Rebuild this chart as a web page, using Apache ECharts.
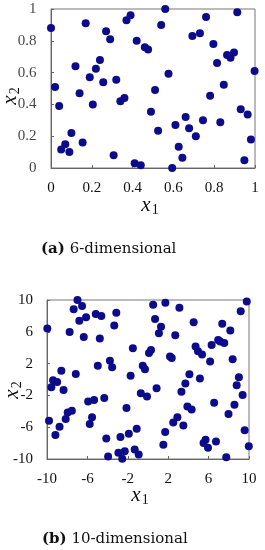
<!DOCTYPE html>
<html>
<head>
<meta charset="utf-8">
<script src="https://cdn.jsdelivr.net/npm/echarts@6/dist/echarts.min.js"></script>
<style>
html,body{margin:0;padding:0;background:#fff;}
#c{width:265px;height:550px;}
</style>
</head>
<body>
<div id="c"></div>
<script>
// (a) 6-dimensional sample
const xA = [0.00,0.02,0.04,0.05,0.07,0.09,0.10,0.12,0.14,0.155,0.17,0.19,0.205,0.22,0.24,0.256,0.27,0.29,0.307,0.32,0.34,0.36,0.37,0.39,0.41,0.42,0.44,0.46,0.476,0.49,0.51,0.525,0.54,0.56,0.576,0.594,0.61,0.626,0.644,0.66,0.677,0.693,0.71,0.73,0.745,0.76,0.78,0.796,0.814,0.83,0.847,0.863,0.88,0.897,0.913,0.93,0.948,0.964,0.98,0.998];
const yA = [0.88,0.51,0.39,0.117,0.15,0.10,0.22,0.64,0.47,0.16,0.91,0.57,0.40,0.625,0.68,0.54,0.86,0.81,0.08,0.555,0.42,0.44,0.93,0.96,0.03,0.80,0.017,0.76,0.746,0.354,0.49,0.235,0.90,1.0,0.593,0.0,0.27,0.134,0.065,0.32,0.25,0.83,0.20,0.847,0.30,0.95,0.455,0.78,0.66,0.287,0.524,0.71,0.694,0.727,0.98,0.37,0.048,0.337,0.18,0.61];

// (b) 10-dimensional sample
const xB = [-9.97,-9.8,-9.57,-9.4,-9.17,-9.0,-8.76,-8.58,-8.36,-8.15,-7.95,-7.76,-7.54,-7.36,-7.15,-6.98,-6.8,-6.53,-6.36,-6.13,-5.93,-5.77,-5.54,-5.34,-5.17,-4.97,-4.77,-4.62,-4.33,-4.13,-3.95,-3.77,-3.55,-3.34,-3.14,-2.93,-2.73,-2.55,-2.3,-2.13,-1.9,-1.72,-1.5,-1.32,-1.12,-0.92,-0.71,-0.52,-0.3,-0.1,0.1,0.3,0.51,0.7,0.85,1.08,1.29,1.52,1.72,1.7,2.18,2.35,2.5,2.7,2.91,3.11,3.31,3.5,3.7,3.9,4.1,4.32,4.52,4.71,4.95,5.14,5.35,5.5,5.7,5.94,6.15,6.3,6.55,6.73,6.95,7.15,7.35,7.55,7.75,7.97,8.15,8.38,8.56,8.78,9.0,9.18,9.37,9.57,9.78,9.98];
const yB = [6.40,-5.19,-0.96,-0.1,-6.99,-0.3,-5.94,1.1,-1.33,-4.98,-4.15,5.98,-3.93,8.83,0.7,10.0,7.4,9.25,5.36,7.82,-2.76,-5.61,-4.75,-2.57,8.24,1.72,5.15,7.99,-2.32,-7.41,-9.67,2.36,1.53,6.8,8.4,-9.2,-7.22,-9.98,-9.04,-3.58,-6.82,0.46,3.93,-8.81,-6.2,-9.42,-1.72,1.72,1.3,-2.14,3.32,3.72,9.41,7.6,-1.1,5.81,6.62,-8.2,9.64,-6.61,2.9,2.7,-5.4,5.58,-4.75,9.02,-1.53,-5.78,-0.5,-3.39,0.65,-3.77,7.2,4.16,3.55,0.12,3.15,-8.0,-7.58,-8.6,2.25,4.33,-2.93,-7.8,4.98,4.77,7.0,4.6,-9.78,-4.35,6.15,2.55,-3.18,-0.73,0.27,8.6,-1.95,-6.38,9.8,-8.41];

const ticksA = {min:0, max:1, interval:0.2};
const ticksB = {min:-10, max:10, interval:4};
const yTickLabelsA = ['0','0.2','0.4','0.6','0.8','1'];
const yTickValuesA = [0,0.2,0.4,0.6,0.8,1];
const captionA = ['(a)', ' 6-dimensional'];
const captionB = ['(b)', ' 10-dimensional'];
const xName = ['x', '1'];
const yName = ['x', '2'];

const dotColor = '#0b0b8c';
const serif = '"Liberation Serif", "Times New Roman", serif';
const capFont = '"DejaVu Serif", serif';

function pairs(xs, ys){ return xs.map((x,i)=>[x, ys[i]]); }

const nameRich = {
  i:{fontFamily:serif, fontStyle:'italic', fontSize:21, fill:'#111'},
  s:{fontFamily:serif, fontSize:14, fill:'#111', padding:[10,0,0,1]}
};

function fmt(v){ return String(Math.round(v*10)/10); }

function axis(idx, t, isX, showLabel){
  return {
    type:'value', gridIndex:idx, min:t.min, max:t.max, interval:t.interval,
    position: isX ? 'bottom' : 'left',
    axisLine:{show:true, onZero:false, lineStyle:{color:'#666', width:1}},
    axisTick:{show:true, inside:true, length:3, lineStyle:{color:'#666'}},
    axisLabel:{show:showLabel, formatter: fmt, fontFamily:serif, fontSize:15, color:'#111', margin: isX ? 13 : 14},
    splitLine:{show:false}
  };
}

function nameText(cx, cy, parts, rot){
  return {
    type:'text', x:cx, y:cy, rotation: rot, silent:true,
    style:{text:'{i|'+parts[0]+'}{s|'+parts[1]+'}', rich:nameRich, align:'center', verticalAlign:'middle'}
  };
}

const capRich = {
  b:{fontFamily:capFont, fontWeight:'bold', fontSize:15, color:'#111'},
  n:{fontFamily:capFont, fontWeight:'normal', fontSize:15, color:'#111'}
};

const chart = echarts.init(document.getElementById('c'), null, {renderer:'canvas'});
chart.setOption({
  animation:false,
  backgroundColor:'#fff',
  grid:[
    {left:47, top:300, width:202, height:159, show:true, borderColor:'#777', borderWidth:1, backgroundColor:'transparent', outerBoundsMode:'none'},
    {left:51, top:9, width:204, height:159, show:true, borderColor:'#777', borderWidth:1, backgroundColor:'transparent', outerBoundsMode:'none'}
  ],
  xAxis:[ axis(0, ticksB, true, true), axis(1, ticksA, true, true) ],
  yAxis:[ axis(0, ticksB, false, true), axis(1, ticksA, false, false) ],
  graphic:[
    nameText(150, 205, xName, 0),
    nameText(10, 96, yName, Math.PI/2),
    nameText(140, 495, xName, 0),
    nameText(12, 390, yName, Math.PI/2)
  ],
  title:[
    {text:'{b|'+captionA[0]+'}{n|'+captionA[1]+'}', left:36, top:237, textStyle:{fontWeight:'normal', rich:capRich}},
    {text:'{b|'+captionB[0]+'}{n|'+captionB[1]+'}', left:37, top:527, textStyle:{fontWeight:'normal', rich:capRich}}
  ],
  series:[
    {type:'scatter', xAxisIndex:0, yAxisIndex:0, data:pairs(xB,yB), symbolSize:8, itemStyle:{color:dotColor, opacity:1}, clip:false},
    {type:'scatter', xAxisIndex:1, yAxisIndex:1, data:pairs(xA,yA), symbolSize:8, itemStyle:{color:dotColor, opacity:1}, clip:false},
    // y tick labels of panel (a), placed on the library's own y scale
    {type:'scatter', xAxisIndex:1, yAxisIndex:1, silent:true, clip:false, symbol:'circle', symbolSize:1,
     itemStyle:{color:'rgba(0,0,0,0)'}, z:10,
     data: yTickValuesA.map(v => [ticksA.min, v]),
     label:{show:true, position:'left', distance:14, formatter: p => yTickLabelsA[p.dataIndex],
       fontFamily:serif, fontSize:15, color:'#111'},
     labelLayout:{hideOverlap:false}
    }
  ]
});
</script>
</body>
</html>
